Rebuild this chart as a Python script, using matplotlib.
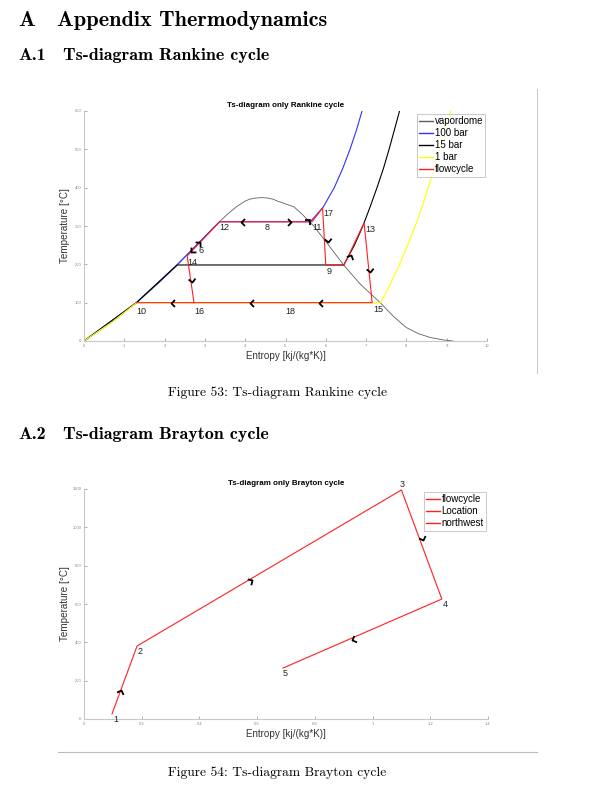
import matplotlib
matplotlib.use("Agg")
import matplotlib.pyplot as plt
from matplotlib.lines import Line2D
from matplotlib.markers import MarkerStyle
from matplotlib.path import Path
from matplotlib.transforms import Affine2D

# ── Rankine data (s [kJ/kgK], T [C]) ─────────────────────────
dome_s = [0, 0.704, 1.307, 1.842, 2.331, 2.793, 3.253, 3.55, 3.78, 4.0, 4.11, 4.27,
          4.41, 4.55, 4.69, 4.8, 5.21, 5.42, 5.70, 6.07, 6.43, 6.84, 7.35, 7.7, 8.0,
          8.3, 8.6, 8.9, 9.16]
dome_T = [0, 50, 100, 150, 200, 250, 300, 330, 350, 365, 370, 373,
          374, 373, 370, 365, 350, 330, 300, 250, 200, 150, 100, 62, 35,
          19, 9, 3, 0]

bar100_s = [0, 1.30, 2.32, 3.36, 5.615, 5.94, 6.21, 6.42, 6.60, 6.76, 6.90]
bar100_T = [0, 100, 200, 311, 311, 350, 400, 450, 500, 550, 600]

bar15_s = [0, 1.30, 2.315, 6.445, 6.71, 6.92, 7.10, 7.27, 7.43, 7.57, 7.70, 7.83]
bar15_T = [0, 100, 198.3, 198.3, 250, 300, 350, 400, 450, 500, 550, 600]

bar1_s = [0, 0.704, 1.303, 7.359, 7.61, 7.83, 8.03, 8.22, 8.39, 8.54, 8.69, 8.83, 8.97, 9.10]
bar1_T = [0, 50, 99.6, 99.6, 150, 200, 250, 300, 350, 400, 450, 500, 550, 600]

rank_s = [2.73, 2.56, 3.37, 5.66, 5.92, 6.0, 6.45, 6.95, 7.15, 1.3]
rank_T = [100, 222, 311, 311, 347, 198, 198, 308, 100, 100]

rank_lbl = ["10", "16", "18", "15", "14", "6", "12", "8", "11", "17", "13", "9"]
rank_lbl_s = [1.31, 2.73, 4.99, 7.17, 2.56, 2.83, 3.37, 4.49, 5.66, 5.93, 6.97, 6.03]
rank_lbl_T = [78, 78, 78, 81, 204, 235, 295, 295, 295, 332, 290, 180]

rank_arr_s = [3.9, 5.14, 5.6, 6.05, 6.63, 7.1, 5.83, 4.12, 2.16, 2.68, 2.88, 2.66]
rank_arr_T = [311, 311, 316, 258, 224, 180, 100, 100, 100, 154, 258, 232]
rank_arr_ang = [180, 0, 45, -85, 64, -84, 180, 180, 180, -82, 46, 226]

# ── Brayton data ─────────────────────────────────────────────
bray_s = [0.097, 0.184, 1.10, 1.24, 0.69]
bray_T = [26, 381, 1195, 626, 266]
bray_lbl = ["1", "2", "3", "4", "5"]
bray_lbl_s = [0.1, 0.187, 1.095, 1.244, 0.69]
bray_lbl_T = [-5, 350, 1221, 595, 235]

bray_arr_s = [0.128, 0.582, 1.175, 0.929]
bray_arr_T = [151, 725, 934, 412]
bray_arr_ang = [70, 31, -70, 203]

# ── Style ────────────────────────────────────────────────────
plt.rcParams["font.family"] = ["Liberation Sans", "DejaVu Sans"]
RED = "#ff2020"
W, H = 609, 799

CHEVRON = Path([(-1, 1), (0, 0), (-1, -1)], [Path.MOVETO, Path.LINETO, Path.LINETO])


def fx(x):
    return x / W


def fy(y):
    return 1 - y / H


def style_axes(ax):
    for side in ("top", "right"):
        ax.spines[side].set_visible(False)
    for side in ("left", "bottom"):
        ax.spines[side].set_color("#c8c8c8")
        ax.spines[side].set_linewidth(0.8)
    ax.tick_params(direction="in", length=2.5, width=0.6, color="#a0a0a0",
                   labelsize=3, labelcolor="#888888", pad=2)


def draw_arrows(ax, xs, ys, angles):
    for x, y, a in zip(xs, ys, angles):
        m = MarkerStyle(CHEVRON, fillstyle="none", transform=Affine2D().rotate_deg(a))
        ax.plot(x, y, marker=m, markersize=5, color="k", mew=1.3,
                linestyle="none", clip_on=False, zorder=5)


def draw_labels(ax, names, xs, ys):
    for n, x, y in zip(names, xs, ys):
        ax.text(x, y, n, fontsize=6.5, ha="left", va="center", color="#222222",
                clip_on=False)


def axis_texts(ax, title):
    ax.text(0.5, 1.026, title, transform=ax.transAxes, fontsize=5.8,
            fontweight="bold", ha="center", va="center")
    ax.text(0.5, -0.066, "Entropy [kj/(kg*K)]", transform=ax.transAxes,
            fontsize=7.1, ha="center", va="center", color="#333333")
    ax.text(-0.047, 0.5, "Temperature [\u00b0C]", transform=ax.transAxes,
            fontsize=7.1, ha="center", va="center", rotation=90, color="#333333")


def add_legend(ax, x, y):
    leg = ax.legend(loc="upper left", bbox_to_anchor=(fx(x), fy(y)),
                    bbox_transform=fig.transFigure, fontsize=7, fancybox=False,
                    edgecolor="#b0b0b0", borderaxespad=0, borderpad=0.25,
                    handlelength=1.4, handletextpad=0.15, labelspacing=0.2)
    leg.get_frame().set_linewidth(0.6)
    for line in leg.get_lines():
        line.set_linewidth(1.0)
    return leg


fig = plt.figure(figsize=(W / 100, H / 100), dpi=100)

# ── Rankine ──────────────────────────────────────────────────
ax1 = fig.add_axes([fx(84), fy(341), 403 / W, 230 / H])
style_axes(ax1)
ax1.plot(dome_s, dome_T, color="#606060", lw=0.6, label="vapordome")
ax1.plot(bar100_s, bar100_T, color="#3030ff", lw=0.8, label="100 bar")
ax1.plot(bar15_s, bar15_T, color="k", lw=0.8, label="15 bar")
ax1.plot(bar1_s, bar1_T, color="#ffff00", lw=0.8, label="1 bar")
ax1.plot(rank_s, rank_T, color=RED, lw=0.8, label="flowcycle")
draw_arrows(ax1, rank_arr_s, rank_arr_T, rank_arr_ang)
draw_labels(ax1, rank_lbl, rank_lbl_s, rank_lbl_T)
ax1.set_xlim(0, 10)
ax1.set_ylim(0, 600)
ax1.set_xticks(range(0, 11))
ax1.set_yticks(range(0, 601, 100))
axis_texts(ax1, "Ts-diagram only Rankine cycle")
add_legend(ax1, 417, 114)

# ── Brayton ──────────────────────────────────────────────────
ax2 = fig.add_axes([fx(84), fy(719), 404 / W, 230 / H])
style_axes(ax2)
ax2.plot(bray_s, bray_T, color=RED, lw=0.8, label="flowcycle")
ax2.plot([], [], color=RED, lw=0.8, label="Location")
ax2.plot([], [], color=RED, lw=0.8, label="northwest")
draw_arrows(ax2, bray_arr_s, bray_arr_T, bray_arr_ang)
draw_labels(ax2, bray_lbl, bray_lbl_s, bray_lbl_T)
ax2.set_xlim(0, 1.4)
ax2.set_ylim(0, 1200)
ax2.set_xticks([0, 0.2, 0.4, 0.6, 0.8, 1, 1.2, 1.4])
ax2.set_xticklabels(["0", "0.2", "0.4", "0.6", "0.8", "1", "1.2", "1.4"])
ax2.set_yticks(range(0, 1201, 200))
axis_texts(ax2, "Ts-diagram only Brayton cycle")
add_legend(ax2, 424, 492)

# ── Page text ────────────────────────────────────────────────
fig.text(fx(18), fy(26), "A", family="cmb10", fontsize=16, va="baseline")
fig.text(fx(57), fy(26), "Appendix Thermodynamics", family="cmb10", fontsize=16, va="baseline")
fig.text(fx(18), fy(60), "A.1", family="cmb10", fontsize=13, va="baseline")
fig.text(fx(63), fy(60), "Ts-diagram Rankine cycle", family="cmb10", fontsize=13, va="baseline")
fig.text(fx(168), fy(396), "Figure 53: Ts-diagram Rankine cycle", family="cmr10",
         fontsize=9.7, va="baseline")
fig.text(fx(18), fy(439), "A.2", family="cmb10", fontsize=13, va="baseline")
fig.text(fx(63), fy(439), "Ts-diagram Brayton cycle", family="cmb10", fontsize=13, va="baseline")
fig.text(fx(168), fy(776), "Figure 54: Ts-diagram Brayton cycle", family="cmr10",
         fontsize=9.7, va="baseline")

fig.add_artist(Line2D([fx(537), fx(537)], [fy(89), fy(373)], color="#cccccc", lw=0.8))
fig.add_artist(Line2D([fx(58), fx(537)], [fy(752), fy(752)], color="#bbbbbb", lw=0.8))

fig.savefig("out.png", dpi=100)
